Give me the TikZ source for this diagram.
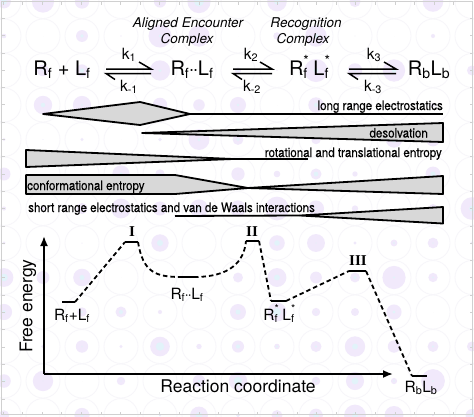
\documentclass[tikz,border=0pt]{standalone}
\usepackage{fontspec}
\setmainfont{TeX Gyre Heros}
\newfontfamily\narrowfont[FakeStretch=0.89,FakeBold=0.4]{TeX Gyre Heros}
\newfontfamily\romfont{Liberation Serif}
\usetikzlibrary{arrows.meta}
\definecolor{bandgray}{RGB}{216,216,216}
\definecolor{framegray}{RGB}{208,208,208}
\definecolor{bgA}{RGB}{241,233,251}
\definecolor{bgB}{RGB}{226,243,250}
\definecolor{bgC}{RGB}{247,246,250}
\newcommand\starsub[1]{#1\rlap{\raisebox{0.12em}{\textsuperscript{*}}}\textsubscript{f}}
\newcommand\twodots{\kern-0.5pt·\kern-1.5pt·\kern-0.5pt}
\begin{document}
\begin{tikzpicture}[x=1pt,y=-1pt,
  eq/.style={font=\fontsize{20}{22}\selectfont, inner sep=0pt, anchor=base},
  kl/.style={font=\fontsize{15.5}{17}\selectfont, inner sep=0pt, anchor=base},
  cplx/.style={font=\fontsize{13.5}{15}\selectfont\itshape, inner sep=0pt, anchor=base},
  bandlbl/.style={font=\narrowfont\fontsize{13}{15}\selectfont, inner sep=0pt, anchor=base east},
  bandlbll/.style={font=\narrowfont\fontsize{13}{15}\selectfont, inner sep=0pt, anchor=base west},
  bandline/.style={line width=1.8pt, line join=round},
  bandfill/.style={bandline, fill=bandgray},
  harp/.style={line width=1.5pt, line join=miter},
  lvl/.style={line width=2.8pt},
  dashconn/.style={line width=1.8pt, dash pattern=on 4.5pt off 3pt},
  axisline/.style={line width=1.8pt, -{Latex[length=10pt,width=8pt]}},
  roman/.style={font=\romfont\bfseries\fontsize{15}{17}\selectfont, inner sep=0pt, anchor=base},
  lbl/.style={font=\fontsize{15.5}{17}\selectfont, inner sep=0pt, anchor=base},
  axlbl/.style={font=\fontsize{17.5}{19}\selectfont, inner sep=0pt}
]
\useasboundingbox (0,0) rectangle (474,416);
\fill[white] (0,0) rectangle (474,416);
% faint background pattern
\pgfmathsetseed{11}
\foreach \i in {0,...,12}{
  \foreach \j in {0,...,12}{
    \pgfmathsetmacro\ra{max(0,rnd*15-3)}
    \pgfmathsetmacro\rb{\ra*0.45*rnd}
    \draw[bgC, line width=0.8pt] (4+39*\i,1.5+34.5*\j) circle[radius=17];
    \fill[bgA] (4+39*\i,1.5+34.5*\j) circle[radius=\ra];
    \fill[bgB] (4+39*\i,1.5+34.5*\j) circle[radius=\rb];
  }
}
% frame with ticks
\draw[framegray, line width=1.5pt] (1.5,1.5) rectangle (472.5,414.5);
\foreach \k in {0,...,23}{
  \draw[framegray, line width=0.8pt] (3+19.6*\k,1.5) -- ++(0,3);
  \draw[framegray, line width=0.8pt] (3+19.6*\k,414.5) -- ++(0,-3);
}
\foreach \k in {0,...,23}{
  \draw[framegray, line width=0.8pt] (1.5,1+17.3*\k) -- ++(3,0);
  \draw[framegray, line width=0.8pt] (472.5,1+17.3*\k) -- ++(-3,0);
}

% ---------- reaction scheme ----------
\node[eq] (RL) at (62,75) {R\textsubscript{f} + L\textsubscript{f}};
\node[eq] (AEC) at (192,75) {R\textsubscript{f}\twodots L\textsubscript{f}};
\node[eq] (RC) at (309,75) {\starsub{R} \starsub{L}};
\node[eq] (B) at (429,75) {R\textsubscript{b}L\textsubscript{b}};

\node[cplx] (aec1) at (188,27) {Aligned Encounter};
\node[cplx] (aec2) at (187,43) {Complex};
\node[cplx] (rc1) at (306,27) {Recognition};
\node[cplx] (rc2) at (303,43) {Complex};

% harpoons
\coordinate (h1a) at (106,69); \coordinate (h1b) at (151,69);
\coordinate (h1c) at (106,73.5); \coordinate (h1d) at (151,73.5);
\coordinate (h2a) at (233,69); \coordinate (h2b) at (272,69);
\coordinate (h2c) at (233,73.5); \coordinate (h2d) at (272,73.5);
\coordinate (h3a) at (349,69); \coordinate (h3b) at (396,69);
\coordinate (h3c) at (349,73.5); \coordinate (h3d) at (396,73.5);
\foreach \p in {1,2,3}{
  \draw[harp] (h\p a) -- (h\p b) -- ++(-12,-7);
  \draw[harp] (h\p d) -- (h\p c) -- ++(9,6);
}
\node[kl] (k1) at (129,59) {k\textsubscript{1}};
\node[kl] (km1) at (129,91) {k\textsubscript{-1}};
\node[kl] (k2) at (251,59) {k\textsubscript{2}};
\node[kl] (km2) at (252,91) {k\textsubscript{-2}};
\node[kl] (k3) at (374,59) {k\textsubscript{3}};
\node[kl] (km3) at (373,91) {k\textsubscript{-3}};

% ---------- interaction bands ----------
% long range electrostatics
\draw[bandfill] (43,114) -- (140,102) -- (190,114) -- (140,125) -- cycle;
\draw[bandline] (190,114) -- (443,114);
\node[bandlbl] (lre) at (443,110) {long range electrostatics};
% desolvation
\draw[bandfill] (142,133) -- (443,123) -- (443,142) -- cycle;
\node[bandlbl] (des) at (428,137.5) {desolvation};
% rotational and translational entropy
\draw[bandfill] (26,150) -- (233,159) -- (26,167) -- cycle;
\draw[bandline] (233,159) -- (308,159);
\node[bandlbl] (rte) at (442,157) {rotational and translational entropy};
% conformational entropy
\draw[bandfill] (26,175) -- (175,175) -- (248,188) -- (443,176) -- (443,194) -- (248,188) -- (175,194) -- (26,194) -- cycle;
\node[bandlbll] (ce) at (27,190) {conformational entropy};
% short range electrostatics
\draw[bandfill] (300,215.5) -- (443,207) -- (443,223.5) -- cycle;
\draw[bandline] (175,216) -- (300,215.5);
\node[bandlbll] (sre) at (28,212) {short range electrostatics and van de Waals interactions};

% ---------- energy diagram ----------
\coordinate (O) at (44,374);
\coordinate (Ytop) at (44,236);
\coordinate (Xend) at (393,374);
\draw[axisline] (O) -- (Ytop);
\draw[axisline] (O) -- (Xend);
\node[axlbl, rotate=90] (fe) at (28,306) {Free energy};
\node[axlbl, anchor=base] (rc) at (238,392) {Reaction coordinate};

% levels
\coordinate (a1) at (62,302);  \coordinate (a2) at (75,302);
\coordinate (b1) at (125,242); \coordinate (b2) at (138,242);
\coordinate (c1) at (181,277); \coordinate (c2) at (194,277);
\coordinate (d1) at (246,241); \coordinate (d2) at (259,241);
\coordinate (e1) at (271,301); \coordinate (e2) at (286,301);
\coordinate (f1) at (349,271); \coordinate (f2) at (366,271);
\coordinate (g1) at (412,376); \coordinate (g2) at (427,376);
\foreach \l in {a,b,c,d,e,f,g}{\draw[lvl] (\l1) -- (\l2);}

\draw[dashconn] (a2) -- (b1);
\draw[dashconn] (b2) .. controls (143,272) and (155,277) .. (c1);
\draw[dashconn] (c2) .. controls (230,277) and (244,262) .. (d1);
\draw[dashconn] (d2) -- (e1);
\draw[dashconn] (e2) -- (f1);
\draw[dashconn] (f2) -- (g1);

\node[roman] (tI) at (132,236) {I};
\node[roman] (tII) at (252,236) {II};
\node[roman] (tIII) at (358,265) {III};

\node[lbl] (la) at (72,320) {R\textsubscript{f}+L\textsubscript{f}};
\node[lbl] (lc) at (187,299) {R\textsubscript{f}\twodots L\textsubscript{f}};
\node[lbl] (le) at (279,320) {\starsub{R} \starsub{L}};
\node[lbl] (lg) at (421,392) {R\textsubscript{b}L\textsubscript{b}};
\end{tikzpicture}
\end{document}
